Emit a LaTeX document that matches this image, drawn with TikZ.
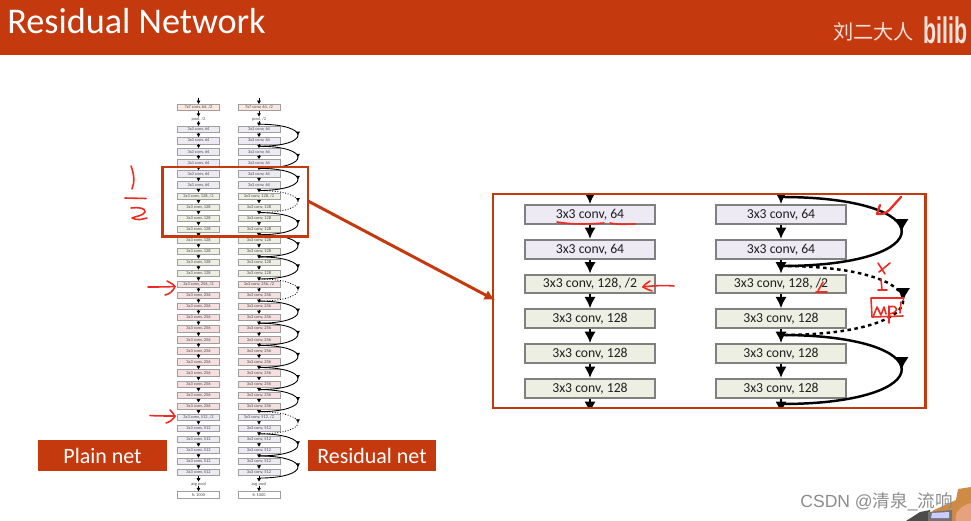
\documentclass[tikz,border=0pt]{standalone}
\usepackage{fontspec}
\setmainfont{Carlito}
\newfontfamily\cjkfont{Noto Sans CJK SC}
\newfontfamily\markfont{Liberation Sans}
\usetikzlibrary{arrows.meta,calc,decorations.markings}
\definecolor{brick}{HTML}{C5390E}
\definecolor{lav}{HTML}{EDEAF4}
\definecolor{olive}{HTML}{EEEFE3}
\definecolor{rose}{HTML}{F5DFDF}
\definecolor{peach}{HTML}{F9E7E0}
\definecolor{pen}{HTML}{EE2A22}
\definecolor{wood}{HTML}{CF8A45}
\definecolor{skin}{HTML}{E6A27E}
\tikzset{
  bigbox/.style={draw=black!50,line width=1.2pt,minimum width=74pt,minimum height=10.6pt,inner sep=0pt,font=\fontsize{7.8}{8}\selectfont,text=black!88},
  tinybox/.style={draw=black!38,line width=.45pt,minimum width=24pt,minimum height=3.6pt,inner sep=0pt,font=\fontsize{2.5}{3}\selectfont,text=black!70},
  tinytext/.style={inner sep=0pt,font=\fontsize{2.5}{3}\selectfont,text=black!70},
  bigflow/.style={-{Latex[length=6.5pt,width=6.5pt]},line width=1.4pt},
  tinyflow/.style={-{Latex[length=2pt,width=2.4pt]},line width=.5pt},
  bigskip/.style={line width=1.4pt,postaction={decorate},decoration={markings,mark=at position .5 with {\arrow{Latex[length=7pt,width=8pt]}}}},
  tinyskip/.style={line width=.5pt,postaction={decorate},decoration={markings,mark=at position .5 with {\arrow{Latex[length=2pt,width=2.4pt]}}}},
  label/.style={fill=brick,text=white,minimum width=73pt,minimum height=17.5pt,inner sep=0pt,font=\fontsize{12.5}{14}\selectfont},
  pencil/.style={draw=pen,line width=.9pt,line cap=round,line join=round}
}
\begin{document}
\begin{tikzpicture}[x=0.02cm,y=-0.02cm]
  \useasboundingbox (0,0) rectangle (971,521);

  % Header band
  \fill[brick] (0,0) rectangle (971,55);
  \node[anchor=base west,inner sep=0pt,text=white,font=\fontsize{20.6}{22}\selectfont] (title) at (7,33) {Residual Network};
  \node[anchor=base west,inner sep=0pt,text=white!85!brick,font=\cjkfont\fontsize{11.5}{13}\selectfont] (teacher) at (833,39) {刘二大人};
  \node[anchor=base west,inner sep=0pt,text=white!85!brick,font=\markfont\bfseries\fontsize{21}{22}\selectfont] (logo) at (923,43) {\scalebox{.58}[1]{bilib}};

  % Small stacks: plain on the left, residual on the right
  \foreach \name/\xpos in {pl/198.5,rs/259} {
    \node[tinybox,fill=peach] (\name top) at (\xpos,107.7) {7x7 conv, 64, /2};
    \node[tinytext] (\name pool) at (\xpos,119) {pool, /2};
    \foreach \idx/\txt/\col in {0/64/lav,1/64/lav,2/64/lav,3/64/lav,4/64/lav,5/64/lav,
      6/{128, /2}/olive,7/128/olive,8/128/olive,9/128/olive,10/128/olive,11/128/olive,12/128/olive,13/128/olive,
      14/{256, /2}/rose,15/256/rose,16/256/rose,17/256/rose,18/256/rose,19/256/rose,20/256/rose,21/256/rose,22/256/rose,23/256/rose,24/256/rose,25/256/rose,
      26/{512, /2}/lav,27/512/lav,28/512/lav,29/512/lav,30/512/lav,31/512/lav}
      \node[tinybox,fill=\col] (\name\idx) at (\xpos,129.7+\idx*11.06) {3x3 conv, \txt};
    \node[tinytext] (\name avg) at (\xpos,484) {avg pool};
    \node[tinybox,fill=white] (\name fc) at (\xpos,495) {fc 1000};

    % Flow through the stack
    \coordinate (\name in) at (\xpos,98);
    \draw[tinyflow] (\name in) -- (\name top);
    \draw[tinyflow] (\name top) -- (\name pool);
    \draw[tinyflow] (\name pool) -- (\name0);
    \foreach \idx [count=\nxt from 1] in {0,...,30}
      \draw[tinyflow] (\name\idx) -- (\name\nxt);
    \draw[tinyflow] (\name31) -- (\name avg);
    \draw[tinyflow] (\name avg) -- (\name fc);
  }

  % Shortcuts of the small residual stack
  \coordinate (tap0) at (259,124.2);
  \foreach \idx [count=\nxt from 1] in {1,3,...,31}
    \coordinate (tap\nxt) at ($(rs\idx)+(0,5.5)$);
  \foreach \from/\to/\how in {0/1/solid,1/2/solid,2/3/solid,3/4/densely dotted,4/5/solid,5/6/solid,6/7/solid,7/8/densely dotted,
    8/9/solid,9/10/solid,10/11/solid,11/12/solid,12/13/solid,13/14/densely dotted,14/15/solid,15/16/solid}
    \draw[tinyskip,\how] (tap\from) .. controls ($(tap\from)+(52,0)$) and ($(tap\to)+(52,0)$) .. (tap\to);

  % Enlarged stacks
  \foreach \name/\xpos in {bl/590,br/781} {
    \node[bigbox,fill=lav] (\name0) at (\xpos,214.5) {3x3 conv, 64};
    \node[bigbox,fill=lav] (\name1) at (\xpos,249.3) {3x3 conv, 64};
    \node[bigbox,fill=olive] (\name2) at (\xpos,284) {3x3 conv, 128, /2};
    \node[bigbox,fill=olive] (\name3) at (\xpos,318.7) {3x3 conv, 128};
    \node[bigbox,fill=olive] (\name4) at (\xpos,353.5) {3x3 conv, 128};
    \node[bigbox,fill=olive] (\name5) at (\xpos,388.3) {3x3 conv, 128};
    \coordinate (\name in) at (\xpos,185);
    \coordinate (\name out) at (\xpos,413);
    \foreach \idx [count=\nxt from 1] in {0,...,4}
      \draw[bigflow] (\name\idx) -- (\name\nxt);
    \begin{scope}
      \clip (493,194) rectangle (925,408);
      \draw[bigflow] (\name in) -- (\name0);
      \draw[bigflow] (\name5) -- (\name out);
    \end{scope}
  }

  % Shortcuts of the enlarged residual stack
  \coordinate (hop0) at (781,197);
  \coordinate (hop1) at (781,266);
  \coordinate (hop2) at (781,335);
  \coordinate (hop3) at (781,404);
  \draw[bigskip] (hop0) .. controls (942,197) and (942,266) .. (hop1);
  \draw[bigskip,dash pattern=on 2pt off 2pt] (hop1) .. controls (944,266) and (944,335) .. (hop2);
  \draw[bigskip] (hop2) .. controls (942,335) and (942,404) .. (hop3);

  % Highlight frames and the zoom arrow
  \coordinate (smallcorner) at (308,201);
  \coordinate (bigcorner) at (495,300);
  \draw[brick,line width=1.7pt] (162.5,167) rectangle (308,236.5);
  \draw[brick,line width=1.7pt] (493,194) rectangle (925,408);
  \draw[brick,line width=1.7pt,-{Latex[length=6pt,width=6pt]}] (smallcorner) -- (bigcorner);

  % Net labels
  \node[label] (plainnet) at (102.5,455.5) {Plain net};
  \node[label] (resnet) at (372,455.5) {Residual net};

  % Pen marks
  \draw[pencil] (131,166) .. controls (134,174) and (135,182) .. (132,189);
  \draw[pencil] (125,198) -- (146,198.5);
  \draw[pencil] (131,208) .. controls (138,207) and (146,208) .. (145,212) .. controls (143,216) and (136,216) .. (132,218) .. controls (137,221) and (143,219) .. (147,218);
  \draw[pencil] (148,287) .. controls (156,287) and (165,287) .. (175,286.5);
  \draw[pencil] (167,281) .. controls (171,283) and (174,285) .. (175,286.5) .. controls (173,291) and (170,294) .. (165,295);
  \draw[pencil] (150,415.5) .. controls (158,416) and (166,416) .. (175,416);
  \draw[pencil] (170,410) .. controls (172,412) and (174,414) .. (175,416.5) .. controls (172,420) and (170,422) .. (166,423);
  \draw[pencil] (557,222) .. controls (575,225) and (590,224) .. (604,223);
  \draw[pencil] (610,223) .. controls (618,225) and (628,224) .. (635,224);
  \draw[pencil] (674,286) .. controls (662,285) and (650,286) .. (643,287);
  \draw[pencil] (650,281) .. controls (647,283) and (644,285) .. (643,287) .. controls (646,289) and (649,290) .. (652,291);
  \draw[pencil] (818,291) -- (823,282) (816,292) -- (827,292);
  \draw[pencil,line width=1.3pt] (877,214) -- (880,205) (877,214) .. controls (884,215) and (888,212) .. (892,207) -- (901,197);
  \draw[pencil] (879,272) -- (890,263) (878,263) -- (885,274);
  \draw[pencil] (881,279) -- (882,290) (878,290) -- (887,290);
  \draw[pencil] (871,298) -- (904,298) (871,298) -- (872,317) -- (903,316);
  \draw[pencil] (873,317) -- (877,307) -- (881,315) -- (884,307) -- (886,314);
  \draw[pencil] (889,306) -- (889,323) (889,307) .. controls (899,304) and (899,313) .. (889,314);
  \draw[pencil] (901,302) -- (900,313);

  % Watermark
  \fill[wood] (922,521) -- (934,510) -- (956,500) -- (958,489) -- (971,487) -- (971,521) -- cycle;
  \fill[black!70] (906,521) -- (920,512) -- (930,510) -- (930,521) -- cycle;
  \fill[black!55] (928,521) -- (928,512) -- (952,510) -- (952,521) -- cycle;
  \fill[blue!20!white] (931,518) -- (932,513) -- (949,512) -- (949,518) -- cycle;
  \fill[skin] (971,503) .. controls (960,506) and (954,513) .. (956,521) -- (971,521) -- cycle;
  \node[anchor=base west,inner sep=0pt,text=black!45,font=\markfont\fontsize{10}{11}\selectfont] (stamp) at (800,507) {CSDN @{\cjkfont 清泉}\_{\cjkfont 流响}};
\end{tikzpicture}
\end{document}
